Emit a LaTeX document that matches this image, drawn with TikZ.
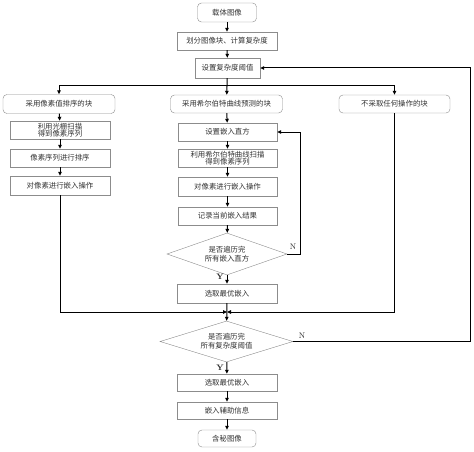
\documentclass[tikz,border=0pt]{standalone}
\usepackage{fontspec}
\newfontfamily\cjk{Noto Sans CJK SC}
\usetikzlibrary{shapes.geometric}
\usetikzlibrary{arrows.meta}

\begin{document}
\begin{tikzpicture}[x=1pt, y=-1pt, draw=black!50, font=\cjk\fontsize{7.4}{9}\selectfont, >={Triangle[length=4pt,width=3.5pt]}]
			\tikzstyle{box}=[rectangle, draw=black!45, fill=white, minimum height=18pt, minimum width=100pt, inner sep=1pt, align=center, text=black!80]
			\tikzstyle{rbox}=[box, rounded corners=4pt]
			\tikzstyle{decide}=[diamond, draw=black!45, fill=white, inner sep=0pt, align=center, text=black!80]
			\tikzstyle{link}=[draw=black, line width=1pt]
			\tikzstyle{annot}=[font=\rmfamily\footnotesize, text=black!85]

			\useasboundingbox (0,0) rectangle (474,452);

			% Draw top part
			\node[rbox, minimum width=59pt, minimum height=19pt] (carrier) at (227,12.5) {载体图像};
			\node[box] (divide) at (227,41) {划分图像块、计算复杂度};
			\node[box, minimum width=65pt, minimum height=20pt] (thresh) at (227.5,68) {设置复杂度阈值};
			\coordinate (split) at (227,86);

			% Draw the three kinds of blocks
			\node[rbox, minimum width=112pt, minimum height=19pt] (sortblk) at (59,104) {采用像素值排序的块};
			\node[rbox, minimum width=112pt] (hilbblk) at (226.5,104) {采用希尔伯特曲线预测的块};
			\node[rbox, minimum width=111pt] (noneblk) at (394.5,104) {不采取任何操作的块};

			% Draw left column
			\node[box] (raster) at (60,130) {利用光栅扫描\\[-2pt]得到像素序列};
			\node[box] (sortseq) at (60,158) {像素序列进行排序};
			\node[box, minimum height=19pt] (embedL) at (60,185.5) {对像素进行嵌入操作};

			% Draw middle column
			\node[box, minimum width=99pt] (sethist) at (227.5,132) {设置嵌入直方};
			\node[box, minimum width=99pt] (hilbscan) at (227.5,158) {利用希尔伯特曲线扫描\\[-2pt]得到像素序列};
			\node[box, minimum width=99pt, minimum height=19pt] (embedM) at (227.5,186.5) {对像素进行嵌入操作};
			\node[box, minimum width=99pt] (record) at (227.5,216) {记录当前嵌入结果};
			\node[decide, minimum width=120pt, minimum height=42pt, aspect=2.86] (histdec) at (227,254) {是否遍历完\\所有嵌入直方};
			\node[box, minimum height=19pt] (bestM) at (227,293.5) {选取最优嵌入};
			\coordinate (merge) at (227,312);

			% Draw bottom part
			\node[decide, minimum width=133pt, minimum height=41pt, aspect=3.24] (thrdec) at (226.5,341.5) {是否遍历完\\所有复杂度阈值};
			\node[box, minimum height=17pt] (bestF) at (227,382.5) {选取最优嵌入};
			\node[box, minimum height=17pt] (auxinfo) at (227,410.5) {嵌入辅助信息};
			\node[rbox, minimum width=58pt, minimum height=17pt] (stego) at (227,438.5) {含秘图像};

			% Draw arrows
			\path[->, link] (carrier) edge (divide);
			\path[->, link] (divide) edge (thresh);
			\draw[link] (thresh) -- (split);
			\draw[->, link] (split) -| (sortblk);
			\draw[->, link] (split) -- (hilbblk);
			\draw[->, link] (split) -| (noneblk);

			\path[->, link] (sortblk) edge (raster);
			\path[->, link] (raster) edge (sortseq);
			\path[->, link] (sortseq) edge (embedL);
			\draw[->, link] (embedL) |- (merge);

			\path[->, link] (hilbblk) edge (sethist);
			\path[->, link] (sethist) edge (hilbscan);
			\path[->, link] (hilbscan) edge (embedM);
			\path[->, link] (embedM) edge (record);
			\path[->, link] (record) edge (histdec);
			\draw[->, link] (histdec.east) -- (300,254) |- (sethist.east);
			\path[->, link] (histdec) edge (bestM);

			\draw[->, link] (noneblk) |- (merge);
			\path[->, link] (bestM) edge (thrdec);
			\draw[->, link] (thrdec.east) -- (470,341.5) |- (thresh.east);
			\path[->, link] (thrdec) edge (bestF);
			\path[->, link] (bestF) edge (auxinfo);
			\path[->, link] (auxinfo) edge (stego);

			% Draw labels
			\node[annot] (nhist) at (293,247) {N};
			\node[annot] (yhist) at (220,277) {\textbf{Y}};
			\node[annot] (nthr) at (302,336) {N};
			\node[annot] (ythr) at (220,368) {\textbf{Y}};
		\end{tikzpicture}
\end{document}
